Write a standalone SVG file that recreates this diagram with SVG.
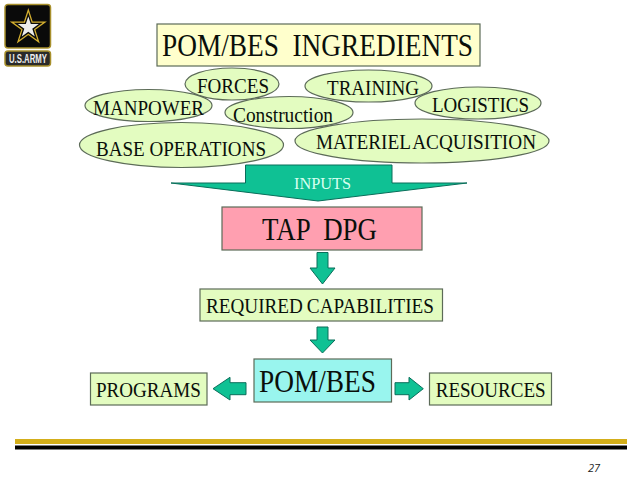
<svg xmlns="http://www.w3.org/2000/svg" width="638" height="478" viewBox="0 0 638 478">
<style>
text{font-family:"Liberation Serif","Times New Roman",serif;fill:#0a0f0a;text-anchor:middle}
.g{fill:#e3fcc0;stroke:#5c6b58;stroke-width:1.2}
.b{stroke:#5c6b58;stroke-width:1.2}
.a{fill:#0fc194;stroke:#0a6e5a;stroke-width:1}
.s{font-size:22px}
.l{font-size:32px}
</style>
<rect width="638" height="478" fill="#fff"/>
<g id="logo">
<rect x="5" y="4.500" width="45.500" height="43.500" rx="3" fill="#0a0a0a" stroke="#a8902c" stroke-width="1.500"/>
<polygon points="28.300,10 32.200,22.100 44.900,22.100 34.700,29.600 38.600,41.700 28.300,34.200 18,41.700 21.900,29.600 11.700,22.100 24.400,22.100" fill="#0a0a0a" stroke="#d3ae2f" stroke-width="1.300"/>
<polygon points="28.300,16.500 30.800,24.100 38.800,24.100 32.300,28.800 34.800,36.400 28.300,31.700 21.800,36.400 24.300,28.800 17.800,24.100 25.800,24.100" fill="#ececec"/>
<rect x="5" y="51" width="45.500" height="15" rx="3" fill="#2a2a2a" stroke="#a8902c" stroke-width="1.500"/>
<text x="28" y="62.700" style="font-family:'Liberation Sans',Arial,sans-serif;font-size:12px;font-weight:bold;fill:#eee" textLength="38" lengthAdjust="spacingAndGlyphs">U.S.ARMY</text>
</g>
<g id="title">
<rect x="157" y="24" width="323" height="42" fill="#ffffcc" class="b"/>
<text x="317.500" y="56" class="l" textLength="311" lengthAdjust="spacingAndGlyphs" xml:space="preserve">POM/BES  INGREDIENTS</text>
</g>
<g id="forces"><ellipse cx="232" cy="84" rx="47" ry="16" class="g"/><text x="233" y="92.700" class="s" textLength="72" lengthAdjust="spacingAndGlyphs">FORCES</text></g>
<g id="manpower"><ellipse cx="148.500" cy="105.500" rx="63.500" ry="16" class="g"/><text x="148.500" y="115" class="s" textLength="111" lengthAdjust="spacingAndGlyphs">MANPOWER</text></g>
<g id="training"><ellipse cx="368.500" cy="86" rx="63.500" ry="16" class="g"/><text x="373" y="94.700" class="s" textLength="92" lengthAdjust="spacingAndGlyphs">TRAINING</text></g>
<g id="construction"><ellipse cx="289" cy="112.500" rx="64" ry="16" class="g"/><text x="283" y="121.700" class="s" textLength="100" lengthAdjust="spacingAndGlyphs">Construction</text></g>
<g id="logistics"><ellipse cx="478" cy="103" rx="63" ry="16" class="g"/><text x="480.500" y="111.700" class="s" textLength="97" lengthAdjust="spacingAndGlyphs">LOGISTICS</text></g>
<g id="materiel"><ellipse cx="422" cy="141" rx="127" ry="22" class="g"/><text x="426" y="149.300" class="s" word-spacing="-2" textLength="220" lengthAdjust="spacingAndGlyphs">MATERIEL ACQUISITION</text></g>
<g id="base"><ellipse cx="181.500" cy="145" rx="102" ry="22.500" class="g"/><text x="181" y="156" class="s" textLength="170" lengthAdjust="spacingAndGlyphs">BASE OPERATIONS</text></g>
<g id="connectors">
<polygon points="245.500,165 392,165 392,183 467,183 318,201 171,183 245.500,183" class="a"/>
<polygon points="317,252.500 328,252.500 328,268 335,268 322.500,284 310,268 317,268" class="a"/>
<polygon points="317,327 328,327 328,340 335,340 322.500,353 310,340 317,340" class="a"/>
<polygon points="213,388.700 230,377.300 230,382.700 246,382.700 246,394.700 230,394.700 230,400" class="a"/>
<polygon points="423.300,388.700 409,377.300 409,382.700 395,382.700 395,394.700 409,394.700 409,400" class="a"/>
</g>
<text x="322.500" y="189" font-size="17" style="fill:#d8fff0" textLength="57" lengthAdjust="spacingAndGlyphs">INPUTS</text>
<g id="tap"><rect x="222" y="207" width="200" height="43" fill="#ff9fb0" class="b"/><text x="319.500" y="239.500" class="l" textLength="115" lengthAdjust="spacingAndGlyphs" xml:space="preserve">TAP  DPG</text></g>
<g id="required"><rect x="200" y="289" width="242.500" height="32" class="g"/><text x="320" y="312.700" class="s" word-spacing="-1" textLength="228" lengthAdjust="spacingAndGlyphs">REQUIRED CAPABILITIES</text></g>
<g id="pombes"><rect x="254" y="359" width="137.500" height="43" fill="#99f5ee" class="b"/><text x="317.500" y="391.700" class="l" textLength="117" lengthAdjust="spacingAndGlyphs">POM/BES</text></g>
<g id="programs"><rect x="90.500" y="373" width="116.500" height="32" class="g"/><text x="148.400" y="397.300" class="s" textLength="105" lengthAdjust="spacingAndGlyphs">PROGRAMS</text></g>
<g id="resources"><rect x="429.500" y="373" width="122" height="32" class="g"/><text x="490.700" y="397.300" class="s" textLength="110" lengthAdjust="spacingAndGlyphs">RESOURCES</text></g>
<rect x="15" y="439" width="612" height="5" fill="#d3ae1a"/>
<rect x="15" y="445.500" width="612" height="4" fill="#000"/>
<text x="594" y="472" font-size="11" font-style="italic" style="font-family:'Open Sans','Liberation Sans',sans-serif;fill:#222">27</text>
</svg>
